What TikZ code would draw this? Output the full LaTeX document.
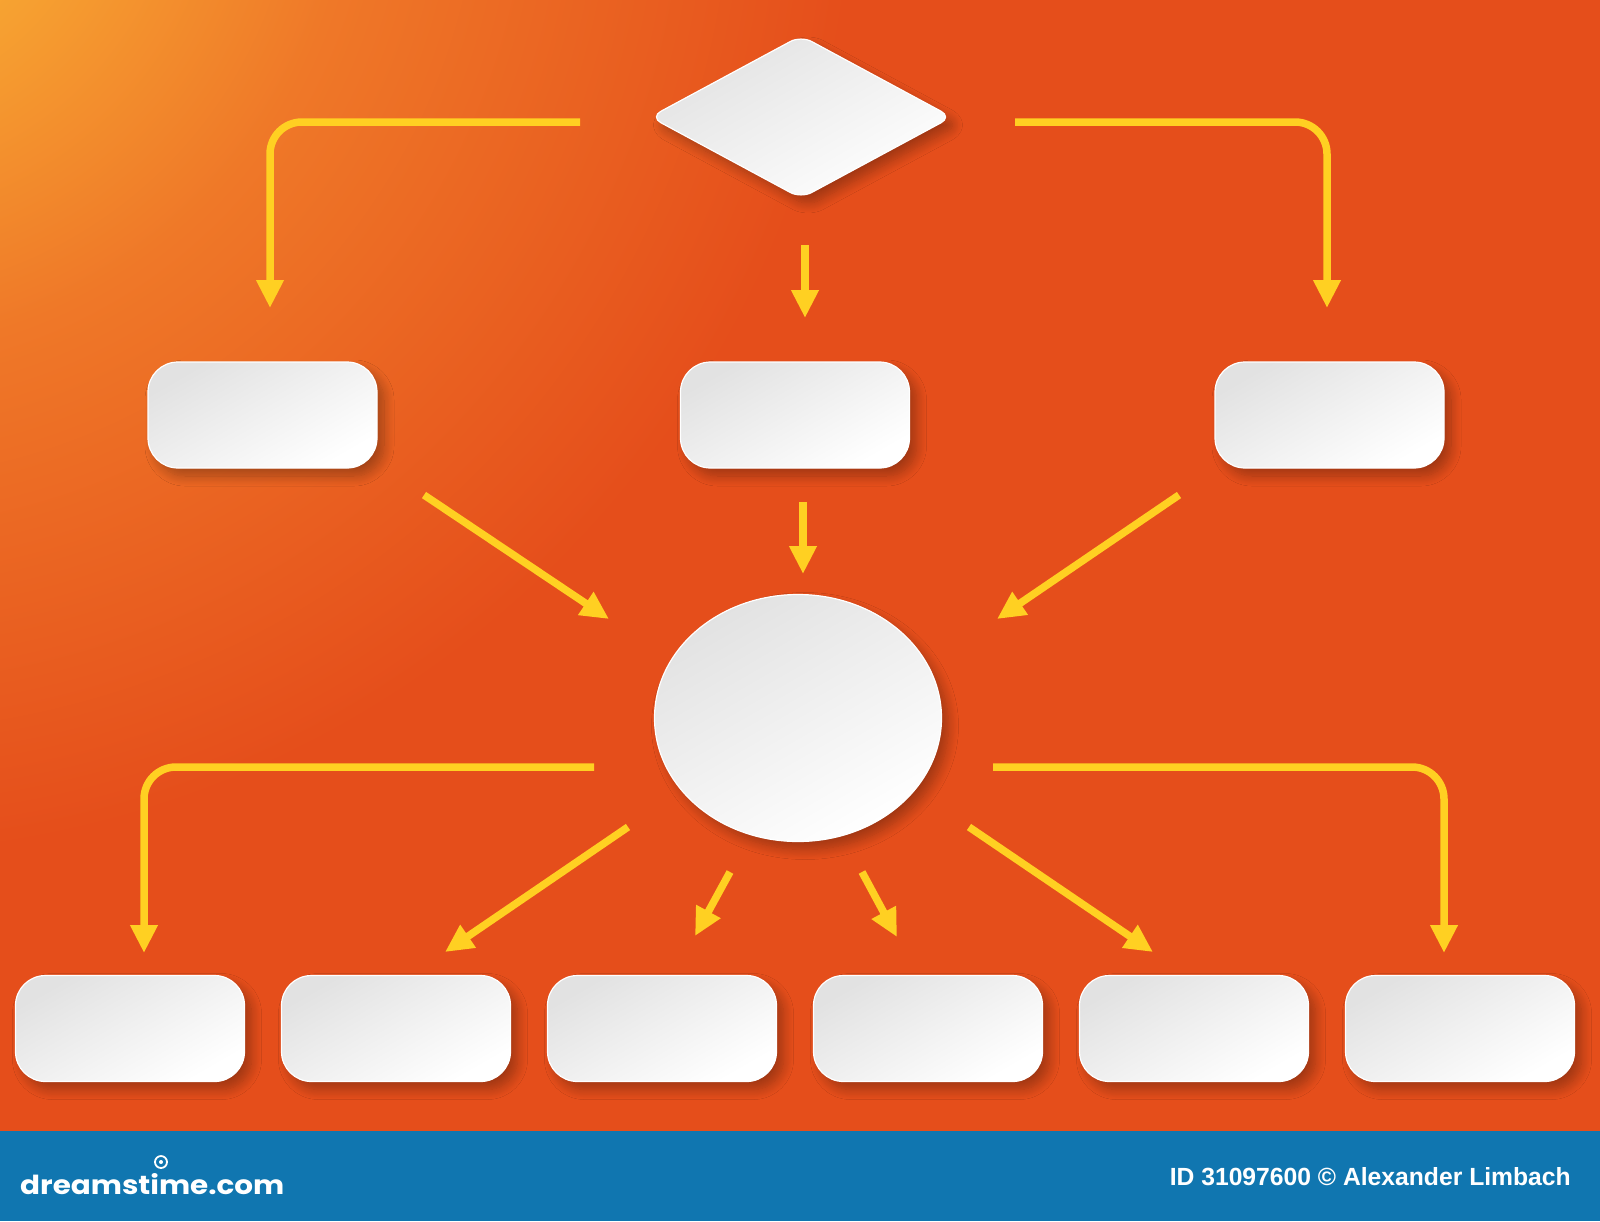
\documentclass[tikz,border=0pt]{standalone}
\usepackage{fontspec}
\usepackage{graphicx}
\newfontfamily\logofont{Poppins}
\newfontfamily\idfont{Liberation Sans}
\usetikzlibrary{shapes.geometric,arrows.meta,shadows.blur}
\definecolor{bgMain}{RGB}{229,78,27}
\definecolor{bgMid}{RGB}{239,120,40}
\definecolor{bgLight}{RGB}{247,165,50}
\definecolor{arrowYellow}{RGB}{255,208,34}
\definecolor{barBlue}{RGB}{16,118,176}
\definecolor{paperGray}{RGB}{226,226,226}
\pgfdeclareradialshading{bgrad}{\pgfpoint{0bp}{0bp}}{color(0bp)=(bgLight); color(3.5bp)=(bgLight); color(9bp)=(bgMid); color(18bp)=(bgMain); color(50bp)=(bgMain)}
\tikzset{
  paper/.style={draw=white, line width=1.2pt, top color=paperGray, bottom color=white, shading angle=30,
    blur shadow={shadow xshift=7pt, shadow yshift=-8pt, shadow blur radius=10pt, shadow opacity=30, shadow blur steps=12}},
  stepbox/.style={paper, rectangle, rounded corners=30pt, minimum width=229pt, minimum height=106pt, inner sep=0pt},
  decision/.style={paper, diamond, rounded corners=12pt, minimum width=302pt, minimum height=163pt, inner sep=0pt},
  hubshape/.style={paper, ellipse, minimum width=287pt, minimum height=247pt, inner sep=0pt},
  arr/.style={draw=arrowYellow, line width=7.5pt, -{Triangle[width=26pt,length=28pt]}},
  elbow/.style={arr, rounded corners=32pt}
}
\begin{document}
\begin{tikzpicture}[x=1pt,y=-1pt]
\useasboundingbox (0,0) rectangle (1600,1221);
% background
\begin{scope}
  \clip (0,0) rectangle (1600,1131);
  \fill[bgMain] (0,0) rectangle (1600,1131);
  \shade[shading=bgrad] (-150,-150) circle (1400);
\end{scope}
\fill[barBlue] (0,1131) rectangle (1600,1221);

% nodes
\node[decision] (dec) at (801,117) {};
\node[stepbox] (t1) at (262.5,415) {};
\node[stepbox] (t2) at (795,415) {};
\node[stepbox] (t3) at (1329.5,415) {};
\node[hubshape] (hub) at (798,718) {};
\node[stepbox] (b1) at (130,1028.5) {};
\node[stepbox] (b2) at (396,1028.5) {};
\node[stepbox] (b3) at (662,1028.5) {};
\node[stepbox] (b4) at (928,1028.5) {};
\node[stepbox] (b5) at (1194,1028.5) {};
\node[stepbox] (b6) at (1460,1028.5) {};

% connector ends
\coordinate (dec-w) at (580,122);   \coordinate (t1-in) at (270,308);
\coordinate (dec-e) at (1015,122);  \coordinate (t3-in) at (1327,308);
\coordinate (dec-s) at (805,245);   \coordinate (t2-in) at (805,318);
\coordinate (t1-out) at (424,495);  \coordinate (hub-nw) at (609,619);
\coordinate (t2-out) at (803,502);  \coordinate (hub-n) at (803,574);
\coordinate (t3-out) at (1179,495); \coordinate (hub-ne) at (997,619);
\coordinate (hub-w) at (594,767);   \coordinate (b1-in) at (144,953);
\coordinate (hub-e) at (993,767);   \coordinate (b6-in) at (1444,953);
\coordinate (hub-sw) at (628,827);  \coordinate (b2-in) at (445,952);
\coordinate (hub-ssw) at (730,872); \coordinate (b3-in) at (695,936);
\coordinate (hub-sse) at (862,872); \coordinate (b4-in) at (897,937);
\coordinate (hub-se) at (969,827);  \coordinate (b5-in) at (1153,952);

% connectors
\draw[elbow] (dec-w) -| (t1-in);
\draw[elbow] (dec-e) -| (t3-in);
\draw[arr] (dec-s) -- (t2-in);
\draw[arr] (t1-out) -- (hub-nw);
\draw[arr] (t2-out) -- (hub-n);
\draw[arr] (t3-out) -- (hub-ne);
\draw[elbow] (hub-w) -| (b1-in);
\draw[elbow] (hub-e) -| (b6-in);
\draw[arr] (hub-sw) -- (b2-in);
\draw[arr] (hub-ssw) -- (b3-in);
\draw[arr] (hub-sse) -- (b4-in);
\draw[arr] (hub-se) -- (b5-in);

% footer
\node[anchor=base west, inner sep=0pt, text=white] (logo) at (20,1194)
  {\resizebox{264pt}{21pt}{\logofont\bfseries dreamstime.com}};
\draw[white, line width=1.8pt] (161,1162) circle (6);
\fill[white] (161,1162) circle (2);
\node[anchor=base east, inner sep=0pt, text=white] (credit) at (1571,1185)
  {\resizebox{401pt}{18pt}{\idfont\bfseries ID 31097600 © Alexander Limbach}};
\end{tikzpicture}
\end{document}
